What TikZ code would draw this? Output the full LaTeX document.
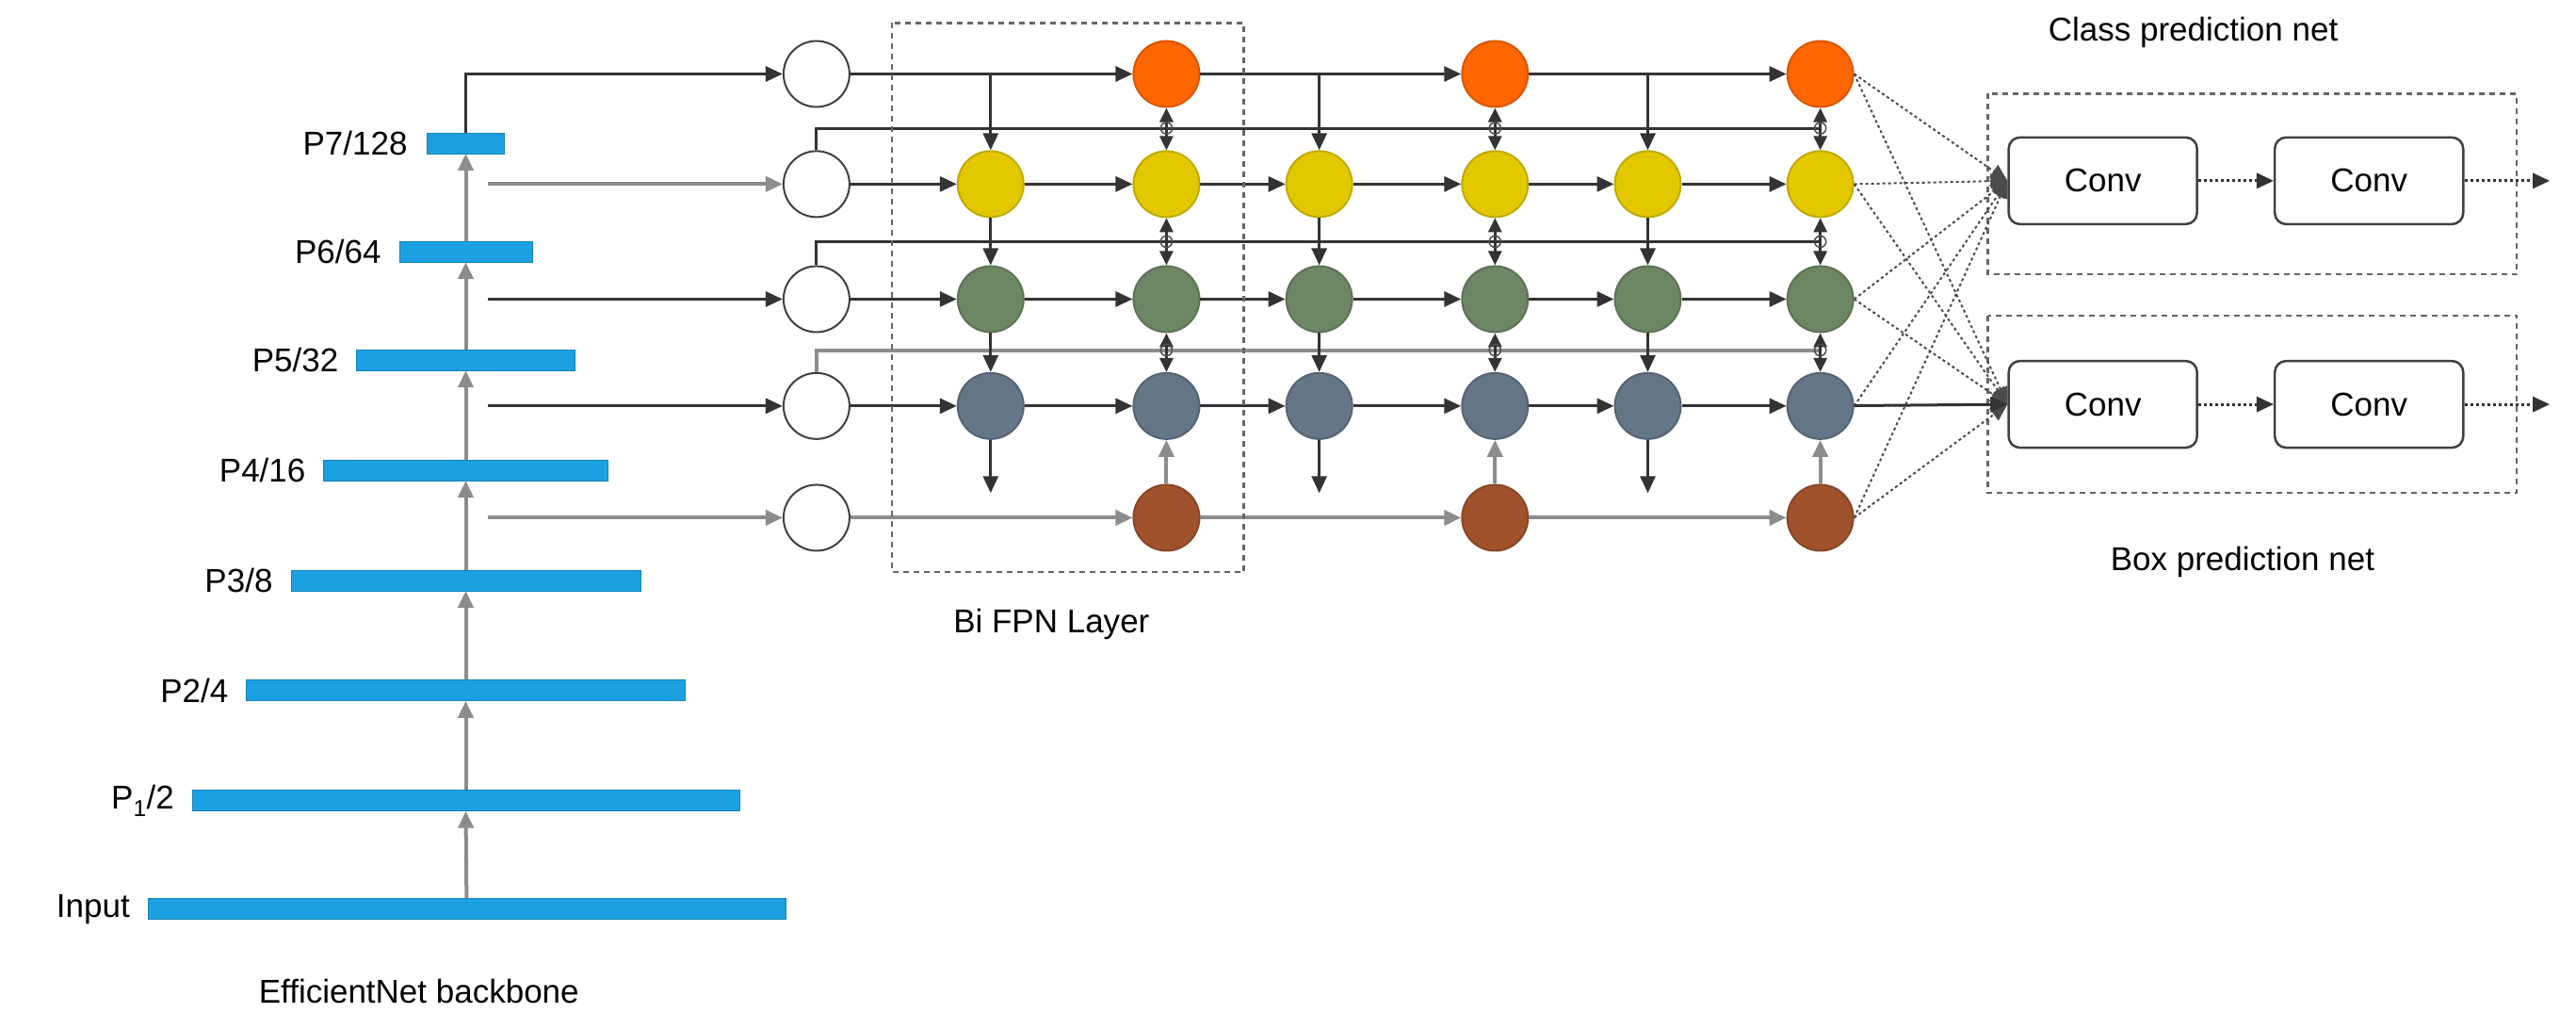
\documentclass[tikz,border=0pt]{standalone}
\usepackage{fontspec}
\setmainfont{Liberation Sans}
\usetikzlibrary{arrows.meta}
\begin{document}
\begin{tikzpicture}[x=1.744pt,y=-1.744pt,
  every node/.style={font=\fontsize{35}{40}\selectfont},
  ln/.style={draw=black!80,line width=3pt},
  gl/.style={draw=black!45,line width=4pt},
  arr/.style={-{Triangle[length=18pt,width=16pt]}},
  dbl/.style={{Triangle[length=15pt,width=14pt]}-{Triangle[length=15pt,width=14pt]}},
  fn/.style={circle,minimum size=70pt,inner sep=0pt,draw=black!75,line width=2pt},
  dbox/.style={draw=black!60,line width=2.2pt,dash pattern=on 6pt off 5pt},
  conv/.style={draw=black!75,line width=2.5pt,rounded corners=12pt,minimum width=200pt,minimum height=92pt}]
\useasboundingbox (0,0) rectangle (1568,626);
\definecolor{bar}{HTML}{1BA1E2}
\definecolor{cO}{HTML}{FF6600}\definecolor{cY}{HTML}{E3C800}
\definecolor{cG}{HTML}{6D8764}\definecolor{cB}{HTML}{647687}\definecolor{cR}{HTML}{A0522D}
% backbone bars
\foreach \n/\l/\r/\y/\t/\lx in {b7/260/307/87/P7\slash128/250, b6/243/324/153/P6\slash64/234, b5/217/350/219/P5\slash32/208, b4/197/370/286/P4\slash16/188, b3/177/390/353/P3\slash8/168, b2/150/417/420/P2\slash4/141, b1/117/450/487/{P\textsubscript{1}\slash2}/108, b0/90/478/553/Input/81}{
  \node[draw=bar!80!black,fill=bar,minimum width={(\r-\l)*1.744pt},minimum height=22pt,inner sep=0pt] (\n) at ({(\l+\r)/2},\y) {};
  \node[anchor=east] (t\n) at (\lx,\y) {\t};
}
\foreach \a/\b in {b0/b1,b1/b2,b2/b3,b3/b4,b4/b5,b5/b6,b6/b7}
  \draw[gl,arr] (\a.north) -- (\b.south);
\node at (255,603) {EfficientNet backbone};
% nodes
\foreach \r/\y in {1/45,2/112,3/182,4/247,5/315}
  \node[fn,fill=white] (w\r) at (497,\y) {};
\foreach \c/\x in {1/603,2/710,3/803,4/910,5/1003,6/1108}{
  \node[fn,fill=cY,draw=cY!85!black] (n2\c) at (\x,112) {};
  \node[fn,fill=cG,draw=cG!85!black] (n3\c) at (\x,182) {};
  \node[fn,fill=cB,draw=cB!85!black] (n4\c) at (\x,247) {};
}
\foreach \c/\x in {2/710,4/910,6/1108}{
  \node[fn,fill=cO,draw=cO!85!black] (n1\c) at (\x,45) {};
  \node[fn,fill=cR,draw=cR!85!black] (n5\c) at (\x,315) {};
}
% backbone to inputs
\draw[ln,arr] (b7.north) -- (b7.north|-w1) -- (w1);
\draw[gl,arr] (297,112) -- (w2);
\draw[ln,arr] (297,182) -- (w3);
\draw[ln,arr] (297,247) -- (w4);
\draw[gl,arr] (297,315) -- (w5);
% horizontal chains
\draw[ln,arr] (w1) -- (n12); \draw[ln,arr] (n12) -- (n14); \draw[ln,arr] (n14) -- (n16);
\foreach \r in {2,3,4}{
  \draw[ln,arr] (w\r) -- (n\r1);
  \foreach \a/\b in {1/2,2/3,3/4,4/5,5/6} \draw[ln,arr] (n\r\a) -- (n\r\b);
}
\draw[gl,arr] (w5) -- (n52); \draw[gl,arr] (n52) -- (n54); \draw[gl,arr] (n54) -- (n56);
% skip lines
\draw[ln] (w2.north) -- (497,78) -- (1108,78);
\draw[ln] (w3.north) -- (497,147) -- (1108,147);
\draw[gl] (w4.north) -- (497,213) -- (1108,213);
% top-down
\foreach \c/\x in {1/603,3/803,5/1003}{
  \draw[ln,arr] (\x,45) -- (n2\c);
  \draw[ln,arr] (n2\c) -- (n3\c);
  \draw[ln,arr] (n3\c) -- (n4\c);
  \coordinate (d\c) at (\x,300);
  \draw[ln,arr] (n4\c) -- (d\c);
}
% bottom-up
\foreach \c in {2,4,6}{
  \draw[ln,dbl] (n1\c) -- (n2\c);
  \draw[ln,dbl] (n2\c) -- (n3\c);
  \draw[ln,dbl] (n3\c) -- (n4\c);
  \draw[gl,arr] (n5\c) -- (n4\c);
  \foreach \y in {78,147,213} \draw[black!70,line width=1.5pt] (n1\c.center|-0,\y) circle (3.5);
}
% BiFPN box
\draw[dbox] (543,14) rectangle (757,348);
\node at (640,380) {Bi FPN Layer};
% heads
\draw[dbox] (1210,57) rectangle (1532,167);
\draw[dbox] (1210,192) rectangle (1532,300);
\node[conv] (c1) at (1280,110) {Conv};
\node[conv] (c2) at (1442,110) {Conv};
\node[conv] (c3) at (1280,246) {Conv};
\node[conv] (c4) at (1442,246) {Conv};
\coordinate (o1) at (1552,110); \coordinate (o2) at (1552,246);
\draw[ln,dashed,arr] (c1) -- (c2); \draw[ln,dashed,arr] (c2) -- (o1);
\draw[ln,dashed,arr] (c3) -- (c4); \draw[ln,dashed,arr] (c4) -- (o2);
\node at (1335,20) {Class prediction net};
\node at (1365,342) {Box prediction net};
\foreach \r in {1,2,3,4,5}{
  \draw[black!70,line width=2pt,dashed,arr] (n\r6.east) -- (c1.west);
  \draw[black!70,line width=2pt,dashed,arr] (n\r6.east) -- (c3.west);
}
\draw[ln,arr] (n46) -- (c3.west);
\end{tikzpicture}
\end{document}
